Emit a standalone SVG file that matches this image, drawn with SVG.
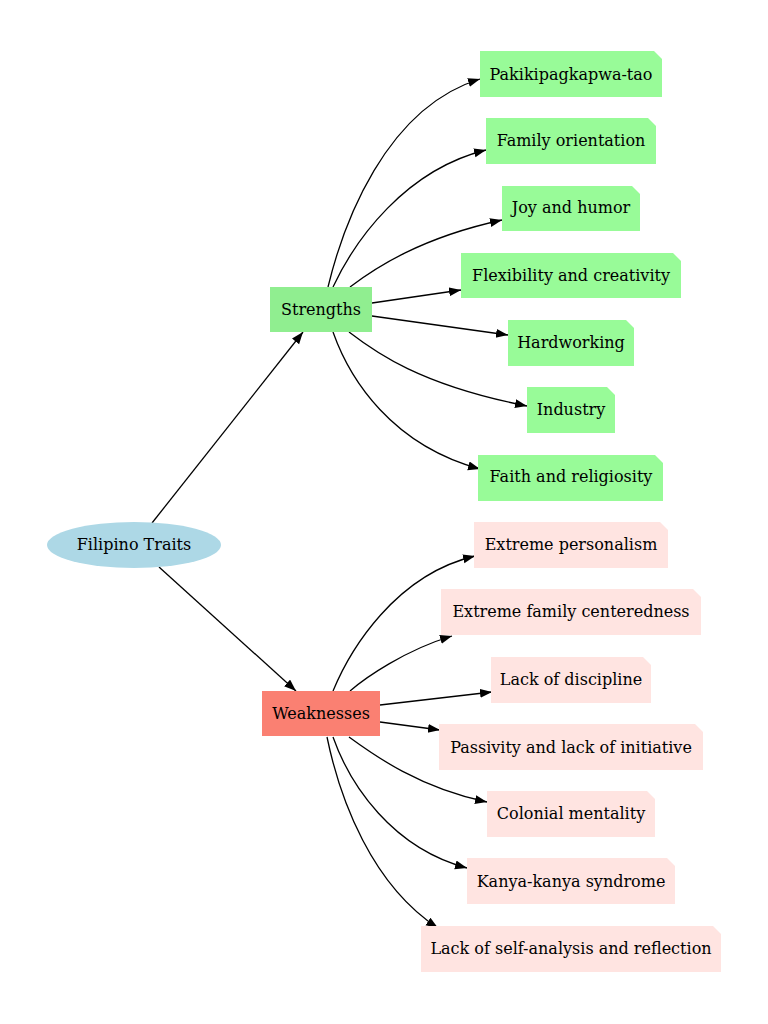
<svg xmlns="http://www.w3.org/2000/svg" width="768" height="1024" viewBox="0 0 768 1024">
<style>
text{font-family:"DejaVu Serif","Liberation Serif",serif;font-size:16px;fill:#000;text-anchor:middle}
.e{fill:none;stroke:#000;stroke-width:1.3;marker-end:url(#ah)}
.s{fill:#98FB98}
.w{fill:#FFE4E1}
</style>
<defs>
<marker id="ah" markerUnits="userSpaceOnUse" markerWidth="13" markerHeight="10" refX="12" refY="4.5" orient="auto"><path d="M0,0 L12,4.5 L0,9 z" fill="#000"/></marker>
</defs>
<rect width="768" height="1024" fill="#fff"/>
<g id="connectors">
<path class="e" d="M152,523 L303,332"/>
<path class="e" d="M159,567 L296,691"/>
<path class="e" d="M328,287 C343,225 385,108 480,79"/>
<path class="e" d="M333,287 C355,240 405,170 486,150"/>
<path class="e" d="M350,287 C375,268 420,238 502,220"/>
<path class="e" d="M372,303 L461,290"/>
<path class="e" d="M372,316 L508,335"/>
<path class="e" d="M349,332 C375,352 420,385 527,406"/>
<path class="e" d="M333,332 C350,380 392,445 480,469"/>
<path class="e" d="M333,691 C350,650 395,575 475,556"/>
<path class="e" d="M350,691 C365,678 405,650 452,636"/>
<path class="e" d="M380,705 L492,692"/>
<path class="e" d="M380,722 L440,730"/>
<path class="e" d="M349,737 C375,756 420,788 487,802"/>
<path class="e" d="M333,737 C350,785 392,848 467,868"/>
<path class="e" d="M327,737 C340,800 372,885 438,928"/>
</g>
<g id="root"><ellipse cx="134" cy="545" rx="87" ry="23" fill="#ADD8E6"/><text x="134" y="550">Filipino Traits</text></g>
<g id="strengths"><rect x="270" y="287" width="102" height="45" fill="#90EE90"/><text x="321" y="315">Strengths</text></g>
<g id="weaknesses"><rect x="262" y="691" width="118" height="45" fill="#FA8072"/><text x="321" y="719">Weaknesses</text></g>
<g id="s1"><polygon class="s" points="480,51 654,51 662,59 662,97 480,97"/><text x="571" y="80">Pakikipagkapwa-tao</text></g>
<g id="s2"><polygon class="s" points="486,118 648,118 656,126 656,164 486,164"/><text x="571" y="146">Family orientation</text></g>
<g id="s3"><polygon class="s" points="502,186 632,186 640,194 640,231 502,231"/><text x="571" y="213">Joy and humor</text></g>
<g id="s4"><polygon class="s" points="461,253 673,253 681,261 681,298 461,298"/><text x="571" y="281">Flexibility and creativity</text></g>
<g id="s5"><polygon class="s" points="508,320 626,320 634,328 634,366 508,366"/><text x="571" y="348">Hardworking</text></g>
<g id="s6"><polygon class="s" points="527,387 607,387 615,395 615,433 527,433"/><text x="571" y="415">Industry</text></g>
<g id="s7"><polygon class="s" points="478,455 655,455 663,463 663,501 478,501"/><text x="571" y="482">Faith and religiosity</text></g>
<g id="w1"><polygon class="w" points="474,522 660,522 668,530 668,568 474,568"/><text x="571" y="550">Extreme personalism</text></g>
<g id="w2"><polygon class="w" points="441,589 693,589 701,597 701,635 441,635"/><text x="571" y="617">Extreme family centeredness</text></g>
<g id="w3"><polygon class="w" points="491,657 643,657 651,665 651,703 491,703"/><text x="571" y="685">Lack of discipline</text></g>
<g id="w4"><polygon class="w" points="439,724 695,724 703,732 703,770 439,770"/><text x="571" y="753">Passivity and lack of initiative</text></g>
<g id="w5"><polygon class="w" points="487,791 647,791 655,799 655,837 487,837"/><text x="571" y="819">Colonial mentality</text></g>
<g id="w6"><polygon class="w" points="467,858 667,858 675,866 675,904 467,904"/><text x="571" y="887">Kanya-kanya syndrome</text></g>
<g id="w7"><polygon class="w" points="421,926 713,926 721,934 721,972 421,972"/><text x="571" y="954">Lack of self-analysis and reflection</text></g>
</svg>
